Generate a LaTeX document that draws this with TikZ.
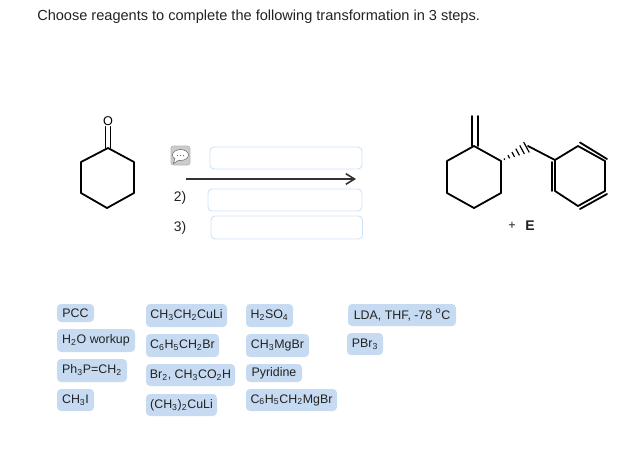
\documentclass[tikz,border=0pt]{standalone}
\usepackage{fontspec}
\setmainfont{Liberation Sans}
\usetikzlibrary{calc,arrows.meta}
\definecolor{chipblue}{HTML}{C6DBF1}
\definecolor{boxblue}{HTML}{CFE3F7}
\definecolor{inktext}{HTML}{222222}
\newcommand{\sub}[1]{\textsubscript{#1}}
\def\px{0.75pt}
\tikzset{
    reagent/.style={fill=chipblue, rounded corners=3pt, inner sep=0pt, text=inktext, font=\fontsize{9.3}{11}\selectfont},
    answerbox/.style={draw=boxblue, fill=white, line width=0.7pt, rounded corners=3pt, inner sep=0pt},
    bond/.style={line width=1.35pt, black, line cap=round, line join=round},
    steplabel/.style={text=inktext, font=\fontsize{10.4}{12}\selectfont}
}

\begin{document}
\begin{tikzpicture}[x=0.75pt,y=-0.75pt]
    \useasboundingbox (0,0) rectangle (644,458);
    \node [anchor=west, text=inktext, inner sep=0pt, font=\fontsize{10.92}{13}\selectfont] (title) at (37,17) {Choose reagents to complete the following transformation in 3 steps.};

    % starting ketone
    \coordinate (k1) at (108,148); \coordinate (k2) at (134,162); \coordinate (k3) at (134,193);
    \coordinate (k4) at (107,208); \coordinate (k5) at (81,193); \coordinate (k6) at (81,162);
    \draw [bond] (k1) -- (k2) -- (k3) -- (k4) -- (k5) -- (k6) -- cycle;
    \node [inner sep=0pt, font=\fontsize{9.5}{11}\selectfont] (oxygen) at (108,121) {O};
    \draw [bond, line width=1pt] ($(k1)+(-2.5,0)$) -- ($(oxygen.south)+(-2.5,1)$);
    \draw [bond, line width=1pt] ($(k1)+(2.5,0)$) -- ($(oxygen.south)+(2.5,1)$);

    % comment icon
    \node [draw=black!28, fill=black!20, rounded corners=1.5pt, minimum width=19*\px, minimum height=19*\px, inner sep=0pt] (icon) at (180.5,155.5) {};
    \draw [fill=white, draw=black!60, line width=0.4pt] (180.5,155) ellipse (8 and 5.5);
    \draw [fill=white, draw=black!60, line width=0.4pt] (175,158) -- (173.5,163.5) -- (179,160);
    \fill [white] (175.5,156.5) rectangle (179,159.5);
    \foreach \i in {-3,0,3}
        \fill [black!60] (180.5+\i,155.5) circle (0.7);

    % answer boxes and arrow
    \node [answerbox, minimum width=152*\px, minimum height=22*\px] (box1) at (286,158) {};
    \node [answerbox, minimum width=154*\px, minimum height=22*\px] (box2) at (285,200) {};
    \node [answerbox, minimum width=151.5*\px, minimum height=23*\px] (box3) at (286.75,227.5) {};
    \coordinate (arrowstart) at (186,179); \coordinate (arrowend) at (356,179);
    \draw [-{Straight Barb[length=6.5pt,width=8pt,line width=1.2pt]}, line width=1.3pt, black!80] (arrowstart) -- (arrowend);
    \node [steplabel] (step2) at (180,198) {2)};
    \node [steplabel] (step3) at (180,227.5) {3)};

    % product
    \coordinate (p1) at (474,146); \coordinate (p2) at (501,161); \coordinate (p3) at (501,193);
    \coordinate (p4) at (474,208); \coordinate (p5) at (447,193); \coordinate (p6) at (447,161);
    \draw [bond] (p1) -- (p2) -- (p3) -- (p4) -- (p5) -- (p6) -- cycle;
    \draw [bond] (472,146) -- (472,116);
    \draw [bond] (478,146) -- (478,116);
    \foreach \t in {0.13,0.3,0.47,0.64,0.81,0.98}
        \draw [line width=0.9pt, black] ($(p2)!\t!(527,147)+(0.47*\t*6,0.88*\t*6)$) -- ($(p2)!\t!(527,147)+(-0.47*\t*6,-0.88*\t*6)$);
    \coordinate (r1) at (555,160); \coordinate (r2) at (578,146); \coordinate (r3) at (605,161);
    \coordinate (r4) at (605,191); \coordinate (r5) at (578,206); \coordinate (r6) at (555,191);
    \coordinate (ch2) at (528,146);
    \draw [bond] (ch2) -- (r1);
    \draw [bond] (r1) -- (r2) -- (r3) -- (r4) -- (r5) -- (r6) -- cycle;
    \draw [bond] (552,162) -- (552,191);
    \draw [bond] (580,142.5) -- (607,159);
    \draw [bond] (580,209) -- (607,194);
    \node [inner sep=0pt, text=inktext, font=\fontsize{9.5}{11}\selectfont] (plus) at (512,225.5) {+};
    \node [inner sep=0pt, text=inktext, font=\bfseries\fontsize{10.5}{12}\selectfont] (prodE) at (530,225.5) {E};

    % reagents
    \node [reagent, minimum width=37*\px, minimum height=18*\px] (pcc) at (75.5,313) {PCC};
    \node [reagent, minimum width=78*\px, minimum height=23*\px] (water) at (96,340.5) {H\sub{2}O workup};
    \node [reagent, minimum width=70*\px, minimum height=23*\px] (wittig) at (92,370.5) {Ph\sub{3}P=CH\sub{2}};
    \node [reagent, minimum width=37*\px, minimum height=22*\px] (mei) at (75.5,400) {CH\sub{3}I};
    \node [reagent, minimum width=81*\px, minimum height=23*\px] (etculi) at (186.5,315.5) {CH\sub{3}CH\sub{2}CuLi};
    \node [reagent, minimum width=73*\px, minimum height=23*\px] (bnbr) at (182.5,345.5) {C\sub{6}H\sub{5}CH\sub{2}Br};
    \node [reagent, minimum width=89*\px, minimum height=22*\px] (bromine) at (190.5,375) {Br\sub{2}, CH\sub{3}CO\sub{2}H};
    \node [reagent, minimum width=71*\px, minimum height=22*\px] (meculi) at (181.5,405) {(CH\sub{3})\sub{2}CuLi};
    \node [reagent, minimum width=47*\px, minimum height=23*\px] (sulfuric) at (269.5,315.5) {H\sub{2}SO\sub{4}};
    \node [reagent, minimum width=63*\px, minimum height=23*\px] (memgbr) at (277.5,345.5) {CH\sub{3}MgBr};
    \node [reagent, minimum width=56*\px, minimum height=18*\px] (pyridine) at (274,373) {Pyridine};
    \node [reagent, minimum width=91*\px, minimum height=22*\px] (bnmgbr) at (291.5,400) {C\sub{6}H\sub{5}CH\sub{2}MgBr};
    \node [reagent, minimum width=108*\px, minimum height=22*\px] (lda) at (402,315) {LDA, THF, -78 \textsuperscript{o}C};
    \node [reagent, minimum width=36*\px, minimum height=22*\px] (pbr) at (365,344) {PBr\sub{3}};
\end{tikzpicture}
\end{document}
